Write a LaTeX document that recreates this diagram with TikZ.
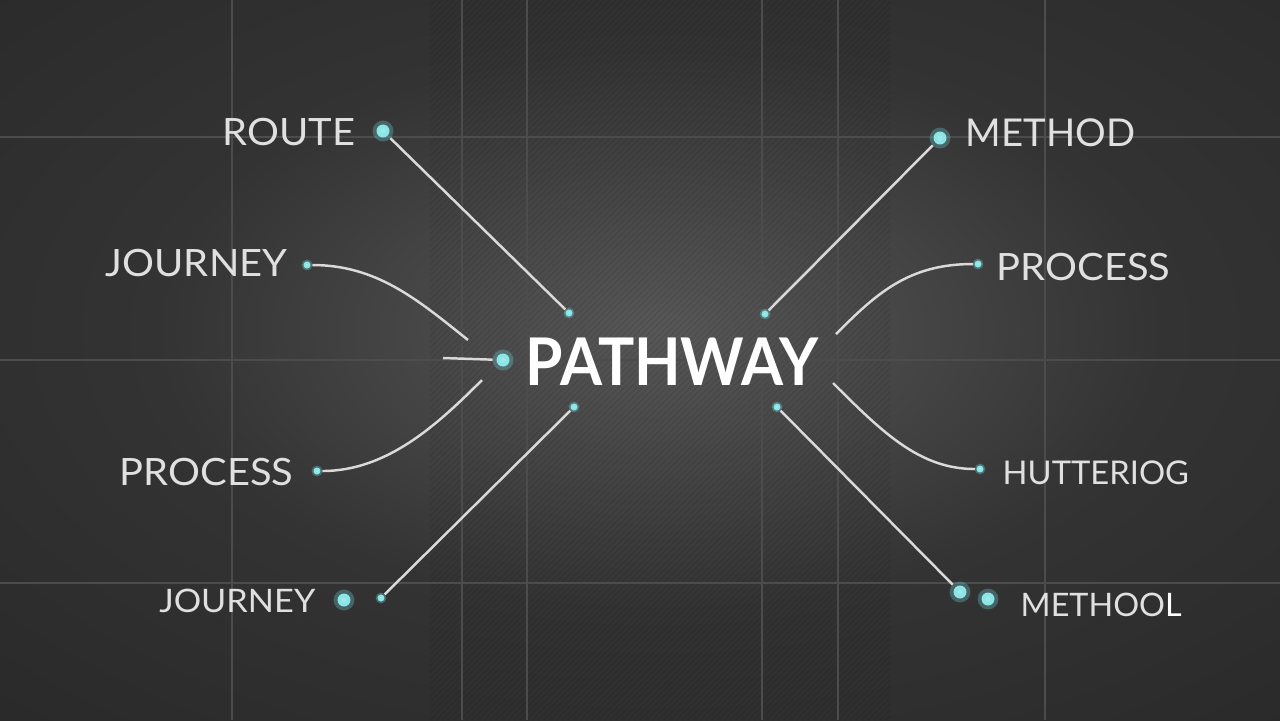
\documentclass[tikz,border=0pt]{standalone}
\usepackage{fontspec}
\setmainfont{Lato}
\newfontfamily\titlefont[FakeStretch=0.92]{Lato}
\newfontfamily\widefont[FakeStretch=1.06]{Lato}
\definecolor{bgdark}{HTML}{212121}
\definecolor{bgmid}{HTML}{333333}
\definecolor{bglight}{HTML}{585858}
\definecolor{gridgray}{HTML}{4C4C4C}
\definecolor{wire}{HTML}{DADADA}
\definecolor{dotcyan}{HTML}{9CEBEB}
\definecolor{dotedge}{HTML}{6FD8DC}
\definecolor{labelgray}{HTML}{E0E0E0}
\pgfdeclareradialshading{bgglow}{\pgfpoint{0bp}{0bp}}{color(0bp)=(bglight); color(18bp)=(bgmid); color(50bp)=(bgdark)}
\begin{document}
\begin{tikzpicture}[x=0.01cm, y=-0.01cm,
    wire/.style={draw=wire, line width=0.7pt},
    gridline/.style={draw=gridgray, line width=0.5pt},
    bigdot/.style={circle, inner sep=0pt, minimum size=0.13cm, fill=dotcyan,
      draw=dotedge, draw opacity=0.3, line width=2.2pt},
    smalldot/.style={circle, inner sep=0pt, minimum size=0.07cm, fill=dotcyan,
      draw=dotedge, draw opacity=0.35, line width=1pt},
    lbl/.style={inner sep=0pt, text=labelgray, font=\widefont\fontsize{10.7}{12}\selectfont},
    lblsmall/.style={lbl, font=\widefont\fontsize{9.2}{11}\selectfont},
    lblplain/.style={lbl, font=\fontsize{#1}{12}\selectfont},
    title/.style={inner sep=0pt, text=white, font=\titlefont\bfseries\fontsize{18.7}{22}\selectfont}]
  \useasboundingbox (0,0) rectangle (1280,720);
  \clip (0,0) rectangle (1280,720);
  \shade[shading=bgglow] (-40,-60) rectangle (1360,720);
  \begin{scope}
    \clip (430,0) rectangle (890,720);
    \foreach \i in {-290,-284,...,890}
      \draw[black, opacity=0.07, line width=0.5pt] (\i,720) -- ++(720,-720);
  \end{scope}
  \foreach \gx in {232,462,527,762,838,1045}
    \draw[gridline] (\gx,0) -- (\gx,720);
  \foreach \gy in {137,360,583}
    \draw[gridline] (0,\gy) -- (1280,\gy);

  \node[title] (pathway) at (672,362) {PATHWAY};

  \node[bigdot] (routedot) at (383,131) {};
  \node[lbl, anchor=east] (route) at (356,132) {ROUTE};
  \node[smalldot] (routeend) at (569,313) {};
  \draw[wire] (routedot) -- (routeend);

  \node[smalldot] (journeydot) at (307,265) {};
  \node[lbl, anchor=east] (journey) at (288,263) {JOURNEY};
  \coordinate (journeyend) at (468,340);
  \draw[wire] (journeydot) .. controls +(70,0) and +(-50,-40) .. (journeyend);

  \coordinate (midstub) at (443,358);
  \node[bigdot] (middot) at (503,360) {};
  \draw[wire] (midstub) -- (middot);

  \node[smalldot] (processdot) at (317,471) {};
  \node[lbl, anchor=east] (process) at (294,472) {PROCESS};
  \coordinate (processend) at (482,380);
  \draw[wire] (processdot) .. controls +(70,0) and +(-45,45) .. (processend);

  \node[bigdot] (lonedotl) at (344,600) {};
  \node[smalldot] (journeyiidot) at (381,598) {};
  \node[lblsmall, anchor=east] (journeyii) at (316,601) {JOURNEY};
  \node[smalldot] (journeyiiend) at (574,407) {};
  \draw[wire] (journeyiidot) -- (journeyiiend);

  \node[bigdot] (methoddot) at (940,138) {};
  \node[lblplain=10.9, anchor=west] (method) at (965,133) {METHOD};
  \node[smalldot] (methodend) at (765,314) {};
  \draw[wire] (methoddot) -- (methodend);

  \node[smalldot] (processiidot) at (978,264) {};
  \node[lbl, anchor=west] (processii) at (996,267) {PROCESS};
  \coordinate (processiiend) at (836,334);
  \draw[wire] (processiidot) .. controls +(-70,0) and +(40,-40) .. (processiiend);

  \coordinate (hutteriogstart) at (833,383);
  \node[smalldot] (hutteriogdot) at (980,469) {};
  \node[lblplain=9.3, anchor=west] (hutteriog) at (1002,473) {HUTTERIOG};
  \draw[wire] (hutteriogstart) .. controls +(50,50) and +(-60,0) .. (hutteriogdot);

  \node[smalldot] (methoolstart) at (777,407) {};
  \node[bigdot] (methooldot) at (960,592) {};
  \node[bigdot] (lonedotr) at (988,599) {};
  \node[lblplain=9.2, anchor=west] (methool) at (1020,605) {METHOO\textcolor{white}{L}};
  \draw[wire] (methoolstart) -- (methooldot);
\end{tikzpicture}
\end{document}
